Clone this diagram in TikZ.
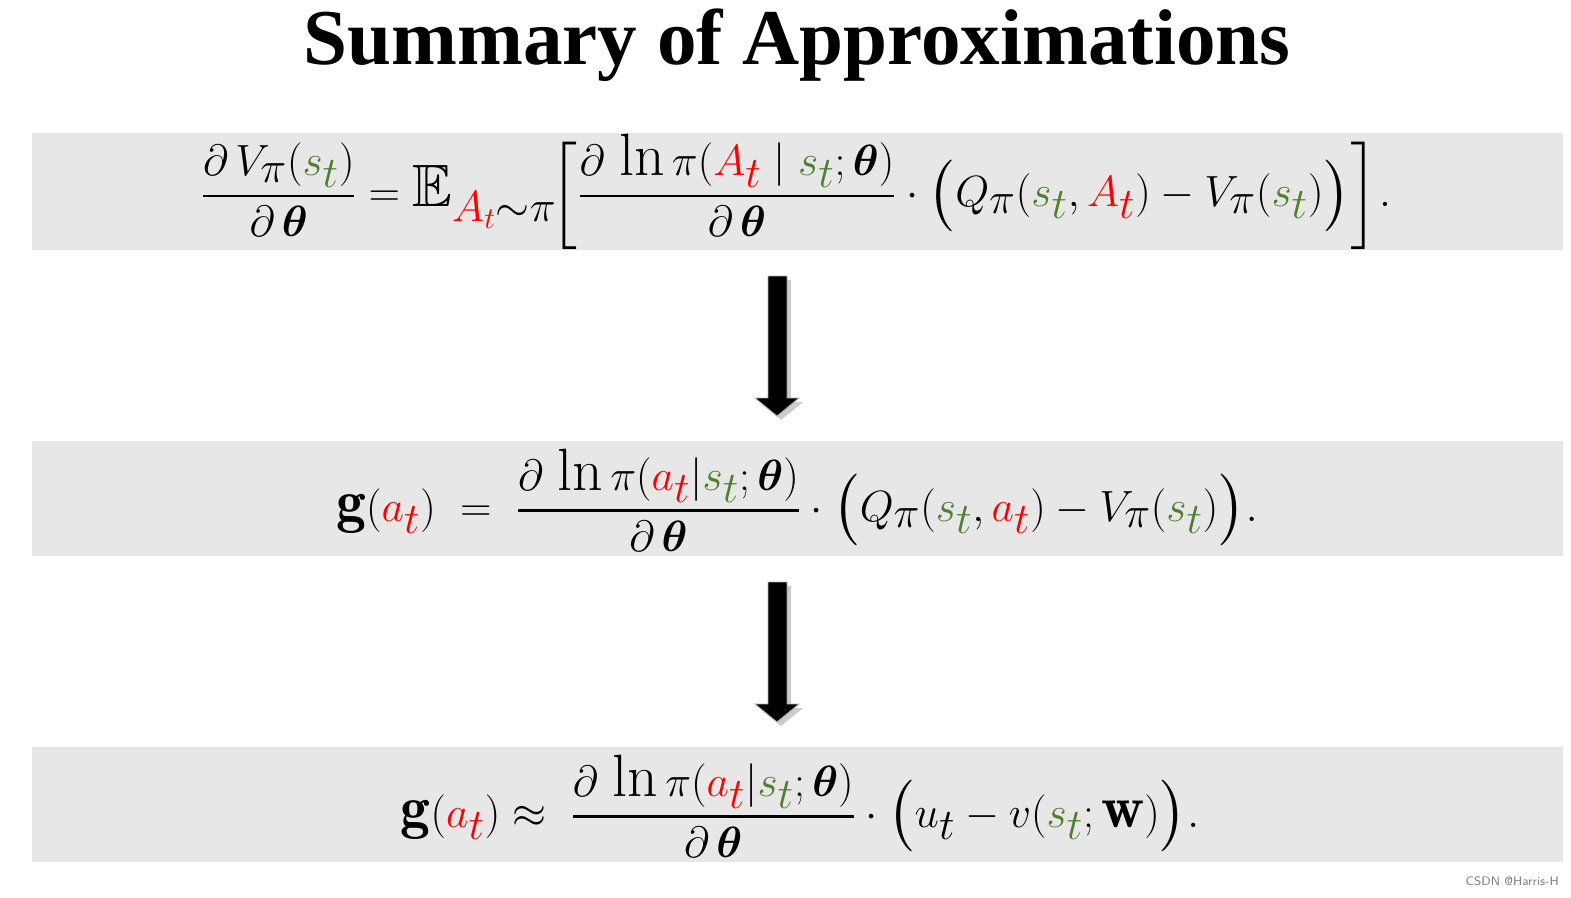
\documentclass[tikz,border=0pt]{standalone}
\usepackage{amsmath,amssymb,bm}
\usepackage{fontspec}
\newfontfamily\titlefont{Liberation Serif}
\usetikzlibrary{shadows}
\definecolor{bandgray}{HTML}{E7E7E7}
\definecolor{sg}{HTML}{4E7F2E}
\newcommand{\rd}[1]{\textcolor{red}{#1}}
\newcommand{\gn}[1]{\textcolor{sg}{#1}}
\tikzset{
  band/.style={fill=bandgray,draw=none},
  eq/.style={inner sep=0pt,font=\fontsize{34}{40}\selectfont},
  bigarrow/.style={fill=black,draw=gray!60,line width=0.5pt,drop shadow={shadow xshift=0.08cm,shadow yshift=-0.08cm,opacity=0.4}}
}
\begin{document}
\begin{tikzpicture}[x=0.02cm,y=-0.02cm]
\useasboundingbox (0,0) rectangle (1571,897);
\fill[white] (0,0) rectangle (1571,897);
\node[font=\titlefont\bfseries\fontsize{45}{50}\selectfont] (title) at (797,45) {Summary of Approximations};
\path[band] (32,133) rectangle (1563,250);
\path[band] (32,441) rectangle (1563,556);
\path[band] (32,747) rectangle (1563,862);
\node[eq] (e1) at (796,192) {$\dfrac{\partial\, V_\pi(\gn{s_t})}{\partial\,\bm{\theta}} = \mathbb{E}_{\rd{A_t}\sim\pi}\!\bigg[\dfrac{\partial\,\ln\pi(\rd{A_t}\mid \gn{s_t};\bm{\theta})}{\partial\,\bm{\theta}}\cdot\Big(Q_\pi(\gn{s_t},\rd{A_t})-V_\pi(\gn{s_t})\Big)\bigg].$};
\node[eq] (e2) at (797,500) {$\mathbf{g}(\rd{a_t})\;=\;\dfrac{\partial\,\ln\pi(\rd{a_t}|\gn{s_t};\bm{\theta})}{\partial\,\bm{\theta}}\cdot\Big(Q_\pi(\gn{s_t},\rd{a_t})-V_\pi(\gn{s_t})\Big).$};
\node[eq] (e3) at (800,806) {$\mathbf{g}(\rd{a_t})\approx\;\dfrac{\partial\,\ln\pi(\rd{a_t}|\gn{s_t};\bm{\theta})}{\partial\,\bm{\theta}}\cdot\Big(u_t-v(\gn{s_t};\mathbf{w})\Big).$};
\path[bigarrow] (768,276) -- (787,276) -- (787,398) -- (799,398) -- (777,416) -- (755,398) -- (768,398) -- cycle;
\path[bigarrow] (768,582) -- (787,582) -- (787,704) -- (799,704) -- (777,722) -- (755,704) -- (768,704) -- cycle;
\node[font=\sffamily\fontsize{7}{8}\selectfont,text=gray,anchor=east] (wm) at (1565,881) {CSDN @Harris-H};
\end{tikzpicture}
\end{document}
